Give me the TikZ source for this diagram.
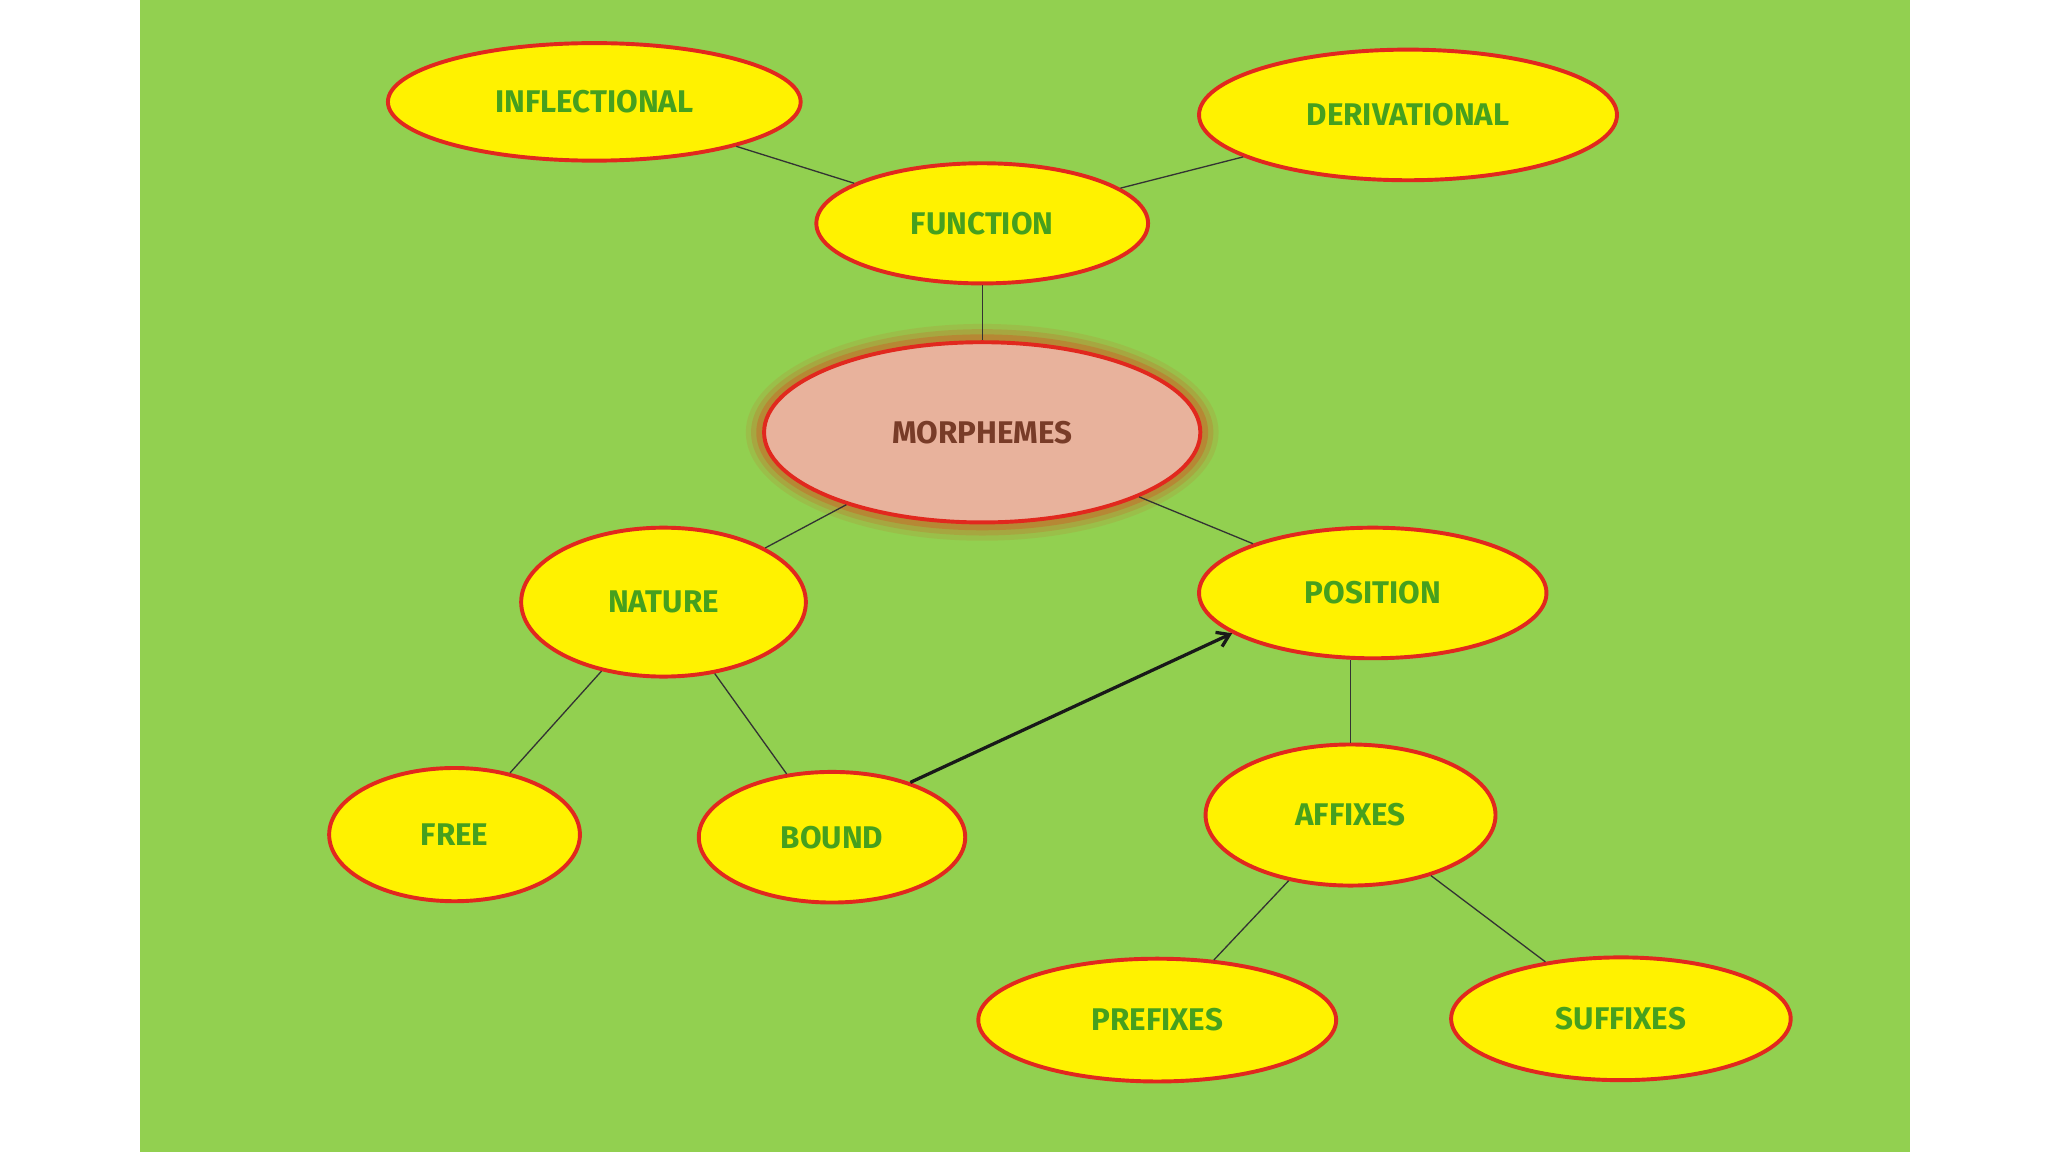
\documentclass[tikz,border=0pt]{standalone}
\usepackage{fontspec}
\setmainfont{Fira Sans}
\usetikzlibrary{shapes.geometric,arrows.meta}
\definecolor{bg}{RGB}{146,208,80}
\definecolor{txt}{RGB}{70,160,30}
\definecolor{rim}{RGB}{225,40,30}
\definecolor{salmon}{RGB}{232,178,156}
\definecolor{brown}{RGB}{120,60,40}
\begin{document}
\begin{tikzpicture}[x=1pt,y=-1pt,
  oval/.style={ellipse,draw=rim,line width=3pt,fill=yellow,inner sep=0pt,
    font=\fontsize{24}{26}\selectfont\bfseries,text=txt},
  link/.style={draw=black!80,line width=1pt}]
\useasboundingbox (0,0) rectangle (1568,882);
\fill[white] (0,0) rectangle (1568,882);
\fill[bg] (107,0) rectangle (1462,882);
% glow
\foreach \i/\o in {14/0.08,10/0.12,6/0.18}
  \fill[red,opacity=\o] (752,331) ellipse ({167+\i} and {69+\i});
\node[oval,minimum width=316,minimum height=90] (infl) at (455,78) {INFLECTIONAL};
\node[oval,minimum width=320,minimum height=100] (deriv) at (1078,88) {DERIVATIONAL};
\node[oval,minimum width=254,minimum height=92] (func) at (752,171) {FUNCTION};
\node[oval,minimum width=334,minimum height=138,fill=salmon,text=brown] (morph) at (752,331) {MORPHEMES};
\node[oval,minimum width=218,minimum height=114] (nature) at (508,461) {NATURE};
\node[oval,minimum width=266,minimum height=100] (pos) at (1051,454) {POSITION};
\node[oval,minimum width=192,minimum height=102] (free) at (348,639) {FREE};
\node[oval,minimum width=204,minimum height=100] (bound) at (637,641) {BOUND};
\node[oval,minimum width=222,minimum height=108] (aff) at (1034,624) {AFFIXES};
\node[oval,minimum width=274,minimum height=94] (pre) at (886,781) {PREFIXES};
\node[oval,minimum width=260,minimum height=94] (suf) at (1241,780) {SUFFIXES};
\begin{scope}[on background layer/.style={}]
\end{scope}
\path[link] (func) -- (infl);
\path[link] (func) -- (deriv);
\path[link] (func.south) -- (morph.north);
\path[link] (morph) -- (nature);
\path[link] (morph) -- (pos);
\path[link] (nature) -- (free);
\path[link] (nature) -- (bound);
\path[link] (pos.south) ++(-17,0) -- ([xshift=0]aff.north);
\path[link] (aff) -- (pre);
\path[link] (aff) -- (suf);
\draw[line width=2.5pt,black!90,-{Straight Barb[length=9pt,width=12pt]}] (bound.35) -- (pos.196);
\end{tikzpicture}
\end{document}
